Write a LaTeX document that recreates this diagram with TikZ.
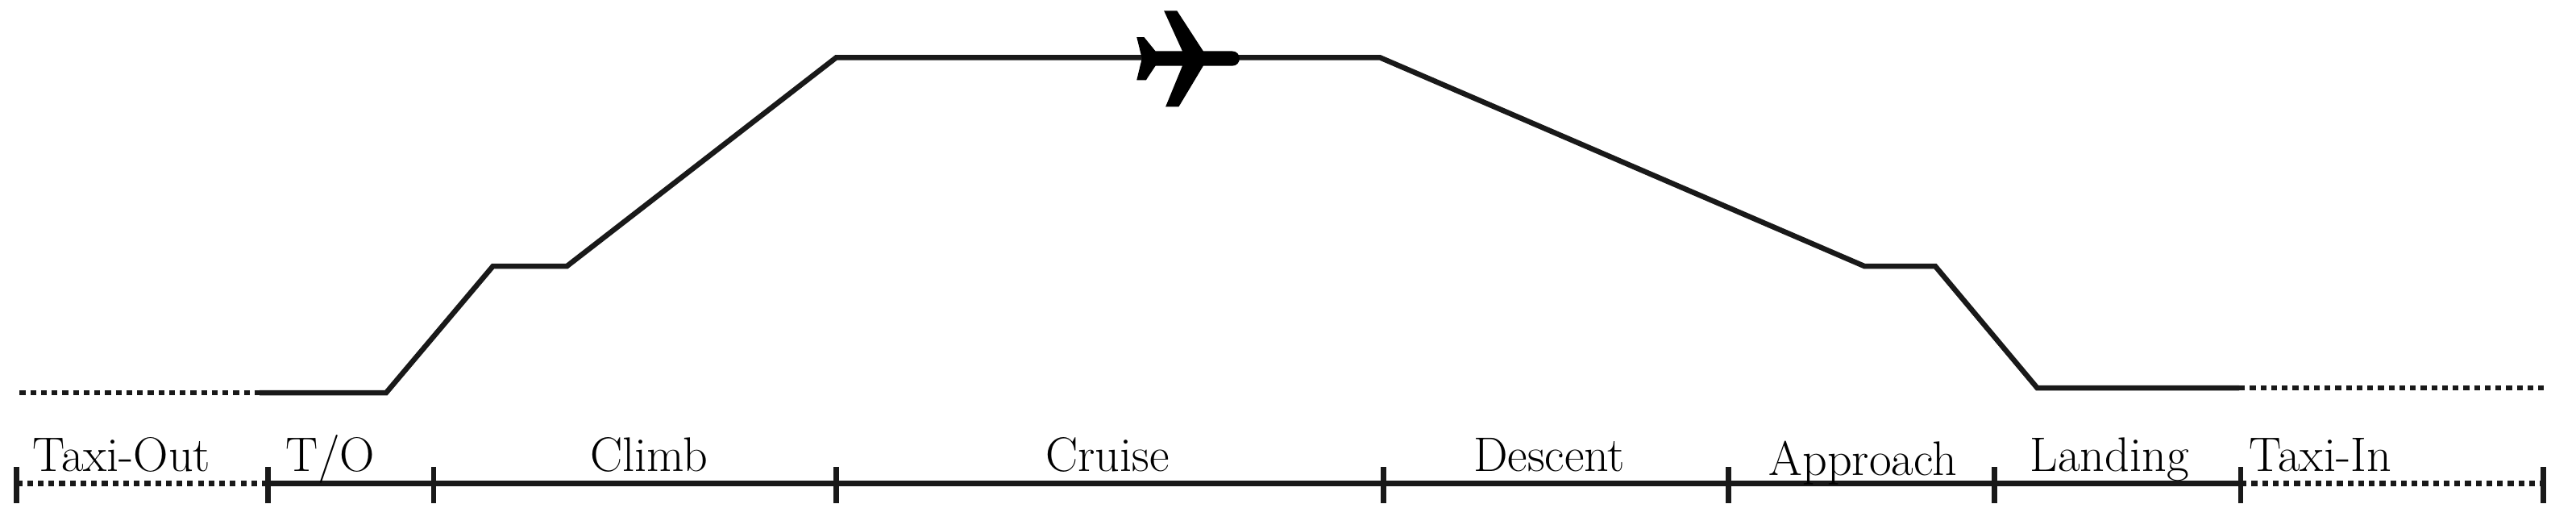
\documentclass[tikz,border=0pt]{standalone}
\begin{document}
\begin{tikzpicture}[x=1pt,y=-1pt,
  prof/.style={line width=3.2pt,line join=miter,color=black!90},
  dots/.style={line width=3.2pt,dash pattern=on 3.5pt off 3pt,color=black!90},
  tick/.style={line width=3.2pt,color=black!90},
  lbl/.style={font=\fontsize{29.5}{30}\selectfont,inner sep=0pt,anchor=base}]
\useasboundingbox (0,0) rectangle (1568,321.4);
% profile
\coordinate (p0) at (12,239); \coordinate (p1) at (158,239); \coordinate (p2) at (235,239);
\coordinate (p3) at (300,162); \coordinate (p4) at (345,162); \coordinate (p5) at (509,35);
\coordinate (p6) at (840,35); \coordinate (p7) at (1135,162); \coordinate (p8) at (1178,162);
\coordinate (p9) at (1240,236); \coordinate (p10) at (1363,236); \coordinate (p11) at (1550,236);
\draw[dots] (p0) -- (p1);
\draw[prof] (p1) -- (p2) -- (p3) -- (p4) -- (p5) -- (p6) -- (p7) -- (p8) -- (p9) -- (p10);
\draw[dots] (p10) -- (p11);
% airplane
\fill[black] (749.9,31.1) -- (732.4,31.1) -- (716.4,6.5) -- (708.5,6.5) -- (719.7,31.1) -- (703.3,31.1) -- (696.4,22.6) -- (691.9,22.6) -- (695.1,35.5) -- (691.9,48.7) -- (697.6,48.7) -- (703.3,40.1) -- (719.7,40.1) -- (709.5,64.9) -- (717.5,64.9) -- (732.4,40.1) -- (749.9,40.1) .. controls (756,40.1) and (756,31.1) .. (749.9,31.1) -- cycle;
% axis
\foreach \n/\x in {t0/10,t1/163,t2/264,t3/509,t4/842,t5/1052,t6/1214,t7/1364,t8/1548}{
  \coordinate (\n) at (\x,294);
  \draw[tick] (\x,284) -- (\x,306);
}
\draw[dots] (t0) -- (t1);
\draw[prof] (t1) -- (t7);
\draw[dots] (t7) -- (t8);
% labels
\node[lbl] (l0) at (74,287) {Taxi-Out};
\node[lbl] (l1) at (201,287) {T/O};
\node[lbl] (l2) at (395,287) {Climb};
\node[lbl] (l3) at (674,287) {Cruise};
\node[lbl] (l4) at (943,287) {Descent};
\node[lbl] (l5) at (1134,289) {Approach};
\node[lbl] (l6) at (1284,287) {Landing};
\node[lbl,anchor=base west] (l7) at (1369,287) {Taxi-In};
\end{tikzpicture}
\end{document}
